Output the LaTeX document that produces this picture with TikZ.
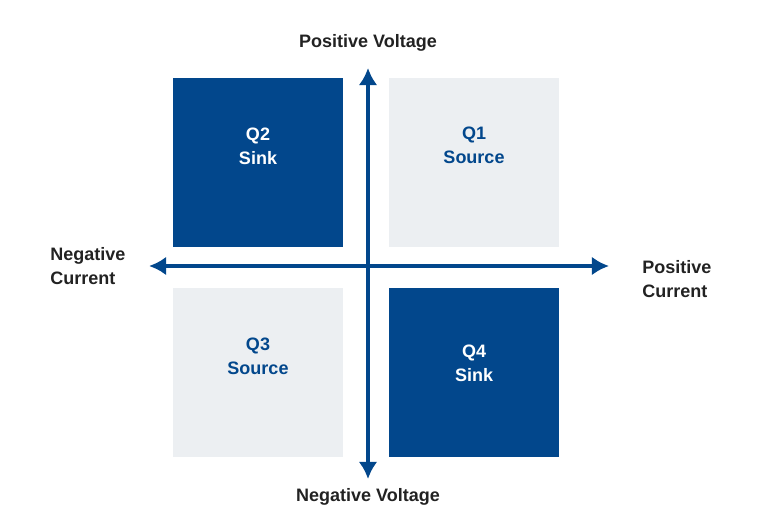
\documentclass[tikz,border=0pt]{standalone}
\usepackage{fontspec}
\setmainfont{Liberation Sans}
\usetikzlibrary{arrows.meta,positioning}
\definecolor{QuadBlue}{RGB}{2,71,140}
\definecolor{QuadGray}{RGB}{236,239,242}
\definecolor{LabelGray}{RGB}{34,34,34}

\begin{document}
\begin{tikzpicture}[x=0.025cm, y=-0.025cm,
    quad/.style={minimum width=4.25cm, minimum height=4.225cm, inner sep=0pt},
    sinkq/.style={quad, fill=QuadBlue},
    srcq/.style={quad, fill=QuadGray},
    qtxt/.style={align=center, inner sep=0pt, font=\fontsize{12.8}{17}\selectfont\bfseries},
    lbl/.style={text=LabelGray, font=\fontsize{12.8}{17}\selectfont\bfseries, inner sep=0pt},
    axis/.style={{Latex[length=0.43cm,width=0.47cm]}-{Latex[length=0.43cm,width=0.47cm]}, line width=3.5pt, draw=QuadBlue}
  ]
    \useasboundingbox (0,0) rectangle (768,531);

    % quadrants
    \node[sinkq] (q2) at (258,162.5) {};
    \node[srcq] (q1) at (474,162.5) {};
    \node[srcq] (q3) at (258,372.5) {};
    \node[sinkq] (q4) at (474,372.5) {};
    \node[qtxt, text=white] (q2t) at (258,146) {Q2\\Sink};
    \node[qtxt, text=QuadBlue] (q1t) at (474,145) {Q1\\Source};
    \node[qtxt, text=QuadBlue] (q3t) at (258,356) {Q3\\Source};
    \node[qtxt, text=white] (q4t) at (474,363) {Q4\\Sink};

    % axes
    \coordinate (vtop) at (368,68);
    \coordinate (vbot) at (368,479);
    \coordinate (hleft) at (149,266);
    \coordinate (hright) at (609,266);
    \draw[axis] (vbot) -- (vtop);
    \draw[axis] (hleft) -- (hright);

    % axis labels
    \node[lbl] (posv) at (368,43) {Positive Voltage};
    \node[lbl] (negv) at (368,497) {Negative Voltage};
    \node[lbl, align=left, anchor=west] (negc) at (50,266) {Negative\\Current};
    \node[lbl, align=left, anchor=west] (posc) at (642,279) {Positive\\Current};
\end{tikzpicture}
\end{document}
